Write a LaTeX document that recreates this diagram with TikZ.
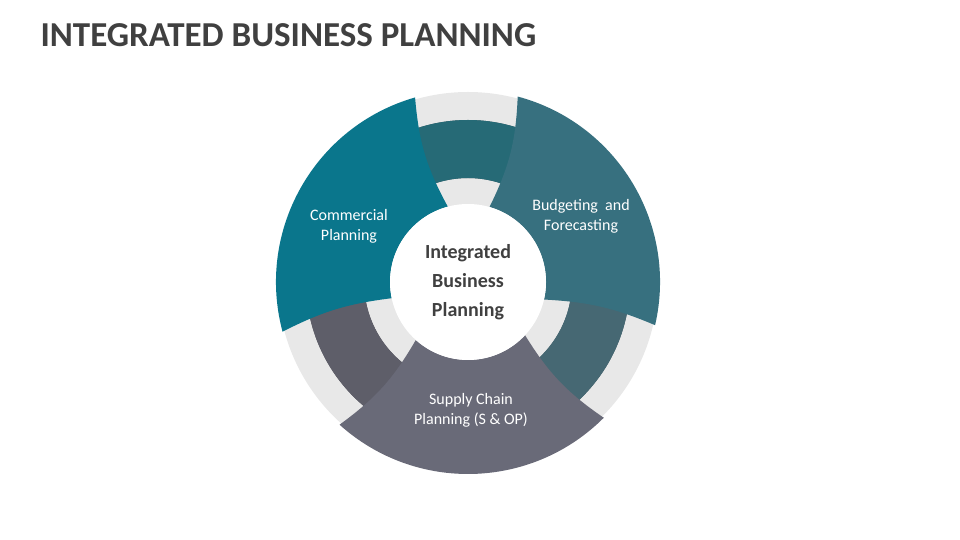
\documentclass[tikz,border=0pt]{standalone}
\usepackage{fontspec}
\setmainfont{Carlito}
\definecolor{ring}{HTML}{E8E8E8}
\definecolor{cteal}{HTML}{0A768C}
\definecolor{cblue}{HTML}{37707F}
\definecolor{cgray}{HTML}{696A78}
\definecolor{bteal}{HTML}{266A76}
\definecolor{bblue}{HTML}{466873}
\definecolor{bgray}{HTML}{5E5E69}
\definecolor{shad}{HTML}{33505A}
\definecolor{shadg}{HTML}{4A4A52}
\definecolor{title}{HTML}{404040}
\begin{document}
\begin{tikzpicture}[x=1pt,y=1pt,
  lab/.style={text=white,font=\fontsize{16}{20}\selectfont,align=center}]
\useasboundingbox (0,0) rectangle (960,540);
\node[anchor=west,text=title,font=\bfseries\fontsize{35}{40}\selectfont] (t) at (37,505) {INTEGRATED BUSINESS PLANNING};
\begin{scope}[shift={(468,258)}]
\fill[ring] (0,0) circle[radius=190];
% bands: dark underlay, then band
\foreach \a/\b/\s/\c in {60/120/shad/bteal, -60/0/shad/bblue, 180/240/shadg/bgray}{
  \fill[\s] (\a:104) arc[start angle=\a,end angle=\b,radius=104] -- (\b:162) arc[start angle=\b,end angle=\a,radius=162] -- cycle;
  \fill[\c] (\a+6:162) to[bend left=8] (\a+4:104) arc[start angle=\a+4,end angle=\b-4,radius=104] to[bend left=8] (\b-6:162) arc[start angle=\b-6,end angle=\a+6,radius=162] -- cycle;
}
% segments
\fill[cteal] (106:192) arc[start angle=106,end angle=195,radius=192] to[bend left=10] (192:78) arc[start angle=192,end angle=105,radius=78] to[bend left=12] cycle;
\fill[cblue] (-13:192) arc[start angle=-13,end angle=75,radius=192] to[bend left=12] (74:78) arc[start angle=74,end angle=-13,radius=78] to[bend left=10] cycle;
\fill[cgray] (228:192) arc[start angle=228,end angle=315,radius=192] to[bend left=12] (317:78) arc[start angle=317,end angle=228,radius=78] to[bend left=12] cycle;
\fill[white] (0,0) circle[radius=78];
\node[text=title,font=\bfseries\fontsize{20}{29}\selectfont,align=center] (c) at (0,0) {Integrated\\Business\\Planning};
\node[lab] (cp) at (-119,56) {Commercial\\Planning};
\node[lab] (bf) at (113,66) {Budgeting~ and\\Forecasting};
\node[lab] (sc) at (3,-128) {Supply Chain\\Planning (S \& OP)};
\end{scope}
\end{tikzpicture}
\end{document}
